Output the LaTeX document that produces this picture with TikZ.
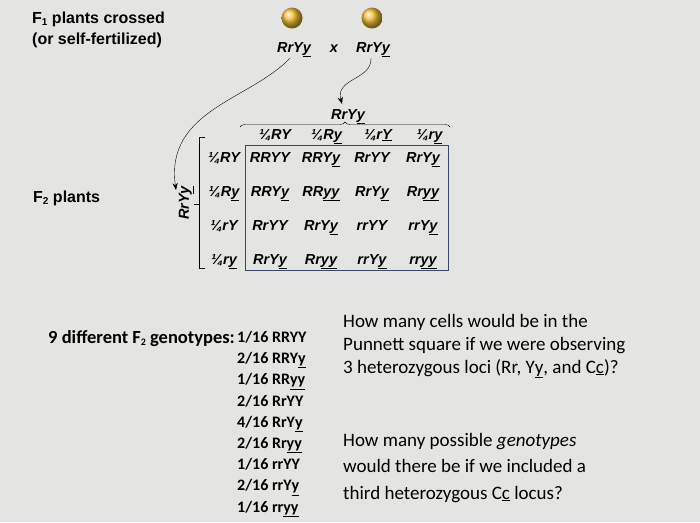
\documentclass[tikz,border=0pt]{standalone}
\usepackage{fontspec}
\setmainfont{Carlito}
\newfontfamily\arial{Liberation Sans}
\newfontfamily\arialbi{Liberation Sans Bold Italic}
\usetikzlibrary{decorations.pathreplacing,arrows.meta}
\newcommand{\uy}{\smash{\underline{y}}}
\newcommand{\uc}{\smash{\underline{c}}}
\newcommand{\sbs}[1]{\raisebox{-2.5pt}{\fontsize{10}{10}\selectfont #1}}
\definecolor{bg}{HTML}{E4E4E2}
\definecolor{boxc}{HTML}{3A4A66}
\definecolor{gold}{HTML}{F0C030}
\begin{document}
\begin{tikzpicture}[x=1pt,y=-1pt,
 hd/.style={font=\arial\bfseries\fontsize{16}{19}\selectfont,anchor=base west,inner sep=0},
 pn/.style={font=\arialbi\fontsize{14.5}{16}\selectfont,inner sep=0,anchor=base},
 ln/.style={font=\bfseries\fontsize{16}{21.2}\selectfont,anchor=base west,inner sep=0},
 qn/.style={font=\fontsize{19}{23}\selectfont,anchor=base west,inner sep=0},
 ball/.style={circle,minimum size=21pt,inner sep=0,ball color=gold,draw=none}]
\fill[bg] (0,0) rectangle (700,522);
\useasboundingbox (0,0) rectangle (700,522);
\node[hd] (t1) at (32,23) {F\sbs{1} plants crossed};
\node[hd] (t2) at (32,44) {(or self-fertilized)};
\node[ball] (b1) at (292,18) {};
\node[ball] (b2) at (372,18) {};
\node[pn] (p1) at (294,52) {RrY\uy};
\node[pn] (x) at (334,52) {x};
\node[pn] (p2) at (373,52) {RrY\uy};
\node[pn] (top) at (348,119) {RrY\uy};
\coordinate (a1) at (176,190);
\draw[-{Stealth[length=7pt]}] (p1.south) ++(-4,6) .. controls (250,100) and (165,110) .. (a1);
\draw[-{Stealth[length=7pt]}] (p2.south) ++(-2,6) .. controls (372,80) and (335,78) .. (342,104);
\draw[decorate,decoration={brace,amplitude=5pt,mirror}] (450,127) -- (240,127);
\draw (205,137) -- (199,137) -- (199,268) -- (205,268);
\draw (199,204) -- (194,204);
\node[pn,rotate=90,anchor=center] (side) at (184,203) {RrY\uy};
\node[hd] (f2) at (33,202) {F\sbs{2} plants};
\foreach \t [count=\i] in {¼RY,¼R\uy,¼r\smash{\underline{Y}},¼r\uy}
  \node[pn] (c\i) at ({275+(\i-1)*51.5},139) {\t};
\foreach \t [count=\i] in {¼RY,¼R\uy,¼rY,¼r\uy}
  \node[pn] (r\i) at (224,{162+(\i-1)*34}) {\t};
\draw[boxc,line width=1pt] (245,145) rectangle (448,270);
\foreach \row [count=\j] in {{RRYY,RRY\uy,RrYY,RrY\uy},{RRY\uy,RR\uy\uy,RrY\uy,Rr\uy\uy},{RrYY,RrY\uy,rrYY,rrY\uy},{RrY\uy,Rr\uy\uy,rrY\uy,rr\uy\uy}}
  \foreach \t [count=\i] in \row
    \node[pn] (g\j\i) at ({270+(\i-1)*51},{162+(\j-1)*34}) {\t};
\node[ln,font=\bfseries\fontsize{18.5}{20}\selectfont,anchor=base east] (nine) at (235,343) {9 different F\sbs{2} genotypes:};
\node[ln,anchor=north west,align=left,text depth=0pt] (list) at (237,331)
  {1/16 RRYY\\2/16 RRY\uy\\1/16 RR\uy\uy\\2/16 RrYY\\4/16 RrY\uy\\2/16 Rr\uy\uy\\1/16 rrYY\\2/16 rrY\uy\\1/16 rr\uy\uy};
\node[qn] (q1) at (343,327) {How many cells would be in the};
\node[qn] (q2) at (343,350) {Punnett square if we were observing};
\node[qn] (q3) at (343,373) {3 heterozygous loci (Rr, Y\uy, and C\uc)?};
\node[qn] (q4) at (343,446) {How many possible \textit{genotypes}};
\node[qn] (q5) at (343,472) {would there be if we included a};
\node[qn] (q6) at (343,499) {third heterozygous C\uc{} locus?};
\end{tikzpicture}
\end{document}
